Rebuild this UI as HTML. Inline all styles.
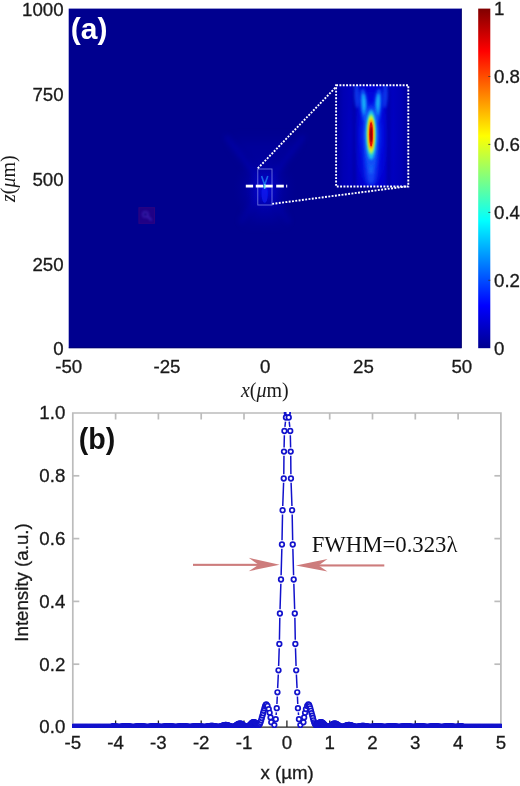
<!DOCTYPE html>
<html lang="en"><head><meta charset="utf-8"><title>Figure</title>
<style>
html,body{margin:0;padding:0;background:#fff;}
body{width:520px;height:786px;overflow:hidden;}
svg{display:block;}
text{font-family:"Liberation Sans",Arial,sans-serif;fill:#1a1a1a;}
.t{font-size:18.7px;}
text{stroke:#1a1a1a;stroke-width:0.3px;}
.s{font-family:"Liberation Serif","Times New Roman",serif;stroke:none;}
</style></head><body>
<svg width="520" height="786" viewBox="0 0 520 786">
<defs>
<linearGradient id="jet" x1="0" y1="1" x2="0" y2="0">
<stop offset="0" stop-color="#00008f"/>
<stop offset="0.125" stop-color="#0000ff"/>
<stop offset="0.375" stop-color="#00ffff"/>
<stop offset="0.5" stop-color="#80ff80"/>
<stop offset="0.625" stop-color="#ffff00"/>
<stop offset="0.875" stop-color="#ff0000"/>
<stop offset="1" stop-color="#800000"/>
</linearGradient>
<linearGradient id="insbg" x1="0" y1="0" x2="1" y2="0">
<stop offset="0" stop-color="#00009c"/><stop offset="0.1" stop-color="#0000b4"/><stop offset="0.3" stop-color="#0000c6"/><stop offset="0.5" stop-color="#0000d4"/><stop offset="0.7" stop-color="#0000c6"/><stop offset="0.9" stop-color="#0000b4"/><stop offset="1" stop-color="#00009c"/>
</linearGradient>
<radialGradient id="glow" cx="0.5" cy="0.5" r="0.5">
<stop offset="0" stop-color="#0808f0" stop-opacity="0.85"/>
<stop offset="0.3" stop-color="#0404d8" stop-opacity="0.55"/>
<stop offset="0.6" stop-color="#0000c0" stop-opacity="0.25"/>
<stop offset="1" stop-color="#0000a0" stop-opacity="0"/>
</radialGradient>
<radialGradient id="hot" cx="0.5" cy="0.5" r="0.5">
<stop offset="0" stop-color="#a00000"/>
<stop offset="0.16" stop-color="#e81000"/>
<stop offset="0.27" stop-color="#ff8000"/>
<stop offset="0.36" stop-color="#f0f020"/>
<stop offset="0.46" stop-color="#70f090"/>
<stop offset="0.58" stop-color="#10c8f0" stop-opacity="0.95"/>
<stop offset="0.75" stop-color="#1060f0" stop-opacity="0.7"/>
<stop offset="1" stop-color="#0808c8" stop-opacity="0"/>
</radialGradient>
<radialGradient id="lobe" cx="0.5" cy="0.5" r="0.5">
<stop offset="0" stop-color="#18b8f8" stop-opacity="1"/>
<stop offset="0.5" stop-color="#1060f0" stop-opacity="0.7"/>
<stop offset="1" stop-color="#0808c8" stop-opacity="0"/>
</radialGradient>
<radialGradient id="lobe2" cx="0.5" cy="0.5" r="0.5">
<stop offset="0" stop-color="#1050f0" stop-opacity="0.9"/>
<stop offset="1" stop-color="#0808c8" stop-opacity="0"/>
</radialGradient>
<filter id="f0" x="-50%" y="-50%" width="200%" height="200%"><feGaussianBlur stdDeviation="0.5"/></filter>
<filter id="f1" x="-50%" y="-50%" width="200%" height="200%"><feGaussianBlur stdDeviation="0.9"/></filter>
<filter id="f2" x="-50%" y="-50%" width="200%" height="200%"><feGaussianBlur stdDeviation="1.6"/></filter>
<filter id="f3" x="-50%" y="-50%" width="200%" height="200%"><feGaussianBlur stdDeviation="2.6"/></filter>
<filter id="f4" x="-50%" y="-50%" width="200%" height="200%"><feGaussianBlur stdDeviation="6"/></filter>
<filter id="b1" x="-20%" y="-20%" width="140%" height="140%"><feGaussianBlur stdDeviation="0.7"/></filter>
<filter id="b2" x="-20%" y="-20%" width="140%" height="140%"><feGaussianBlur stdDeviation="2.5"/></filter>
<clipPath id="hc"><rect x="68.7" y="8.6" width="393.1" height="339.59999999999997"/></clipPath>
<clipPath id="ic"><rect x="336.2" y="85.2" width="72.4" height="101.3"/></clipPath>
<clipPath id="pc"><rect x="71.9" y="412.1" width="430.1" height="315.79999999999995"/></clipPath>
</defs>
<rect x="0" y="0" width="520" height="786" fill="#ffffff"/>

<rect x="68.7" y="8.6" width="393.1" height="339.59999999999997" fill="#00008f"/>
<g clip-path="url(#hc)">
<g filter="url(#f3)">
<line x1="264.8" y1="186.3" x2="303.0" y2="137.4" stroke="#0c0cd0" stroke-width="4.5" stroke-linecap="round" opacity="0.3"/>
<line x1="264.8" y1="186.3" x2="226.6" y2="137.4" stroke="#0c0cd0" stroke-width="4.5" stroke-linecap="round" opacity="0.3"/>
<line x1="264.8" y1="186.3" x2="241.3" y2="221.1" stroke="#0c0cd0" stroke-width="4.5" stroke-linecap="round" opacity="0.2"/>
<line x1="264.8" y1="186.3" x2="288.3" y2="221.1" stroke="#0c0cd0" stroke-width="4.5" stroke-linecap="round" opacity="0.2"/>
</g>
<g filter="url(#f4)">
<path d="M264.8 186.3 L230.8 140.3 L298.8 140.3 Z" fill="#0808d0" opacity="0.18"/>
<path d="M264.8 186.3 L242.8 222.3 L286.8 222.3 Z" fill="#0808d0" opacity="0.16"/>
</g>
<ellipse cx="264.8" cy="189.3" rx="32" ry="38" fill="url(#glow)"/>
<g filter="url(#b1)">
<ellipse cx="264.7" cy="194" rx="3.2" ry="9" fill="#0c1cf0" opacity="0.7"/>
<path d="M261.6 176 L264.6 185 L267.8 176" fill="none" stroke="#1c78f0" stroke-width="1.6" opacity="0.85"/>
<ellipse cx="264.7" cy="186.3" rx="1.3" ry="2.6" fill="#60d0e8"/>
</g>
</g>
<g><rect x="138.9" y="207.7" width="15.6" height="15.6" fill="#560078" stroke="#7a0868" stroke-width="1" opacity="0.36"/><g opacity="0.5" filter="url(#f1)"><circle cx="145.4" cy="214.4" r="2.7" fill="#000080" stroke="#5038d0" stroke-width="1.5"/><line x1="147.6" y1="216.6" x2="151" y2="219.8" stroke="#5038d0" stroke-width="2" stroke-linecap="round"/></g></g>
<rect x="336.2" y="85.2" width="72.40000000000003" height="101.3" fill="url(#insbg)"/>
<g clip-path="url(#ic)">
<ellipse cx="371.2" cy="138" rx="17" ry="48" fill="#0008f0" opacity="0.55" filter="url(#f4)"/>
<ellipse cx="354.3" cy="140" rx="2.2" ry="60" fill="#000088" opacity="0.45" filter="url(#f2)"/>
<ellipse cx="388.6" cy="140" rx="2.2" ry="60" fill="#000088" opacity="0.45" filter="url(#f2)"/>
<ellipse cx="371" cy="164" rx="6.2" ry="22" fill="#1450f8" opacity="0.9" filter="url(#f3)"/>
<ellipse cx="371" cy="160" rx="3.2" ry="14" fill="#1880f8" opacity="0.55" filter="url(#f2)"/>
<ellipse cx="357.0" cy="96" rx="2.6" ry="12.5" fill="#1040f0" opacity="0.85" filter="url(#f2)" transform="rotate(-3 357.0 96)"/>
<ellipse cx="385.0" cy="96" rx="2.6" ry="12.5" fill="#1040f0" opacity="0.85" filter="url(#f2)" transform="rotate(3 385.0 96)"/>
<ellipse cx="363.8" cy="105" rx="3.6" ry="16.5" fill="#0c58f8" opacity="0.95" filter="url(#f2)" transform="rotate(-4 363.8 105)"/>
<ellipse cx="378.0" cy="105" rx="3.6" ry="16.5" fill="#0c58f8" opacity="0.95" filter="url(#f2)" transform="rotate(4 378.0 105)"/>
<ellipse cx="364.0" cy="104.5" rx="2.0" ry="11" fill="#18b0f8" opacity="1" filter="url(#f1)" transform="rotate(-4 364.0 104.5)"/>
<ellipse cx="377.8" cy="104.5" rx="2.0" ry="11" fill="#18b0f8" opacity="1" filter="url(#f1)" transform="rotate(4 377.8 104.5)"/>
<ellipse cx="371.1" cy="135.3" rx="8.5" ry="31" fill="#0c48f8" opacity="0.95" filter="url(#f3)"/>
<ellipse cx="371.1" cy="134.8" rx="5.4" ry="25" fill="#18c8f0" opacity="1" filter="url(#f2)"/>
<ellipse cx="371.1" cy="134.3" rx="3.9" ry="20" fill="#a0f060" opacity="1" filter="url(#f1)"/>
<ellipse cx="371.1" cy="134.3" rx="3.1" ry="17" fill="#ffe800" opacity="1" filter="url(#f1)"/>
<ellipse cx="371.1" cy="134.3" rx="2.4" ry="14.5" fill="#ff6000" opacity="1" filter="url(#f1)"/>
<ellipse cx="371.1" cy="134.3" rx="1.85" ry="12.3" fill="#e00800" opacity="1" filter="url(#f0)"/>
<ellipse cx="371.1" cy="134.60000000000002" rx="1.0" ry="7.5" fill="#980000" opacity="1" filter="url(#f0)"/>
</g>
<rect x="336.1" y="85.2" width="72.2" height="101.3" stroke="#ffffff" stroke-width="1.9" stroke-dasharray="1.9 1.43" fill="none"/>
<line x1="257.8" y1="168.4" x2="335.6" y2="87.4" stroke="#ffffff" stroke-width="1.9" stroke-dasharray="1.9 1.43" fill="none"/>
<line x1="272.2" y1="203.9" x2="407.5" y2="186.3" stroke="#ffffff" stroke-width="1.9" stroke-dasharray="1.9 1.43" fill="none"/>
<rect x="257.8" y="169" width="14.2" height="36" fill="none" stroke="#b0bcff" stroke-width="0.9" opacity="0.62"/>
<rect x="245.8" y="184.7" width="7.3" height="2.8" fill="#ffffff"/>
<rect x="255.8" y="184.7" width="7.3" height="2.8" fill="#ffffff"/>
<rect x="265.4" y="184.7" width="7.3" height="2.8" fill="#ffffff"/>
<rect x="276.2" y="184.7" width="7.6" height="2.8" fill="#ffffff"/>
<rect x="286.2" y="184.7" width="1.0" height="2.8" fill="#ffffff"/>
<path d="M461.40000000000003 8.6 V347.8 H68.7" fill="none" stroke="#000050" stroke-width="0.9" opacity="0.55"/>
<rect x="478.2" y="8.6" width="12.1" height="339.59999999999997" fill="url(#jet)"/>
<text class="t" x="494.0" y="354.8">0</text>
<line x1="488.3" y1="280.3" x2="490.3" y2="280.3" stroke="#333" stroke-width="0.8"/>
<text class="t" x="494.0" y="286.9">0.2</text>
<line x1="488.3" y1="212.4" x2="490.3" y2="212.4" stroke="#333" stroke-width="0.8"/>
<text class="t" x="494.0" y="219.0">0.4</text>
<line x1="488.3" y1="144.4" x2="490.3" y2="144.4" stroke="#333" stroke-width="0.8"/>
<text class="t" x="494.0" y="151.0">0.6</text>
<line x1="488.3" y1="76.5" x2="490.3" y2="76.5" stroke="#333" stroke-width="0.8"/>
<text class="t" x="494.0" y="83.1">0.8</text>
<text class="t" x="494.0" y="15.2">1</text>
<text class="t" x="63.6" y="355.4" text-anchor="end">0</text>
<text class="t" x="63.6" y="270.5" text-anchor="end">250</text>
<text class="t" x="63.6" y="185.6" text-anchor="end">500</text>
<text class="t" x="63.6" y="100.7" text-anchor="end">750</text>
<text class="t" x="63.6" y="15.8" text-anchor="end">1000</text>
<text class="t" x="68.7" y="373" text-anchor="middle">-50</text>
<text class="t" x="167.0" y="373" text-anchor="middle">-25</text>
<text class="t" x="265.2" y="373" text-anchor="middle">0</text>
<text class="t" x="363.5" y="373" text-anchor="middle">25</text>
<text class="t" x="461.8" y="373" text-anchor="middle">50</text>
<text class="s" x="264.8" y="397.3" text-anchor="middle" font-size="20"><tspan font-style="italic">x</tspan>(<tspan font-style="italic">μ</tspan>m)</text>
<text class="s" transform="translate(15.3,178.6) rotate(-90)" text-anchor="middle" font-size="20"><tspan font-style="italic">z</tspan>(<tspan font-style="italic">μ</tspan>m)</text>
<text x="70.8" y="39.2" font-size="30" font-weight="bold" style="fill:#ffffff;stroke:none">(a)</text>
<g stroke="#bcbcbc" stroke-width="1.7" fill="none">
<path d="M72.8 727.0 V413.0 H500.9 V727.0"/>
<line x1="115.6" y1="413.0" x2="115.6" y2="419.5"/>
<line x1="158.4" y1="413.0" x2="158.4" y2="419.5"/>
<line x1="201.2" y1="413.0" x2="201.2" y2="419.5"/>
<line x1="244.0" y1="413.0" x2="244.0" y2="419.5"/>
<line x1="286.9" y1="413.0" x2="286.9" y2="419.5"/>
<line x1="329.7" y1="413.0" x2="329.7" y2="419.5"/>
<line x1="372.5" y1="413.0" x2="372.5" y2="419.5"/>
<line x1="415.3" y1="413.0" x2="415.3" y2="419.5"/>
<line x1="458.1" y1="413.0" x2="458.1" y2="419.5"/>
<line x1="72.8" y1="664.2" x2="79.3" y2="664.2"/>
<line x1="500.9" y1="664.2" x2="494.4" y2="664.2"/>
<line x1="72.8" y1="601.4" x2="79.3" y2="601.4"/>
<line x1="500.9" y1="601.4" x2="494.4" y2="601.4"/>
<line x1="72.8" y1="538.6" x2="79.3" y2="538.6"/>
<line x1="500.9" y1="538.6" x2="494.4" y2="538.6"/>
<line x1="72.8" y1="475.8" x2="79.3" y2="475.8"/>
<line x1="500.9" y1="475.8" x2="494.4" y2="475.8"/>
</g>
<g stroke="#222" stroke-width="1.3">
<line x1="72.8" y1="727.2" x2="500.9" y2="727.2"/>
<line x1="115.6" y1="727.0" x2="115.6" y2="720.5"/>
<line x1="158.4" y1="727.0" x2="158.4" y2="720.5"/>
<line x1="201.2" y1="727.0" x2="201.2" y2="720.5"/>
<line x1="244.0" y1="727.0" x2="244.0" y2="720.5"/>
<line x1="286.9" y1="727.0" x2="286.9" y2="720.5"/>
<line x1="329.7" y1="727.0" x2="329.7" y2="720.5"/>
<line x1="372.5" y1="727.0" x2="372.5" y2="720.5"/>
<line x1="415.3" y1="727.0" x2="415.3" y2="720.5"/>
<line x1="458.1" y1="727.0" x2="458.1" y2="720.5"/>
</g>
<text class="t" x="72.8" y="749.3" text-anchor="middle">-5</text>
<text class="t" x="115.6" y="749.3" text-anchor="middle">-4</text>
<text class="t" x="158.4" y="749.3" text-anchor="middle">-3</text>
<text class="t" x="201.2" y="749.3" text-anchor="middle">-2</text>
<text class="t" x="244.0" y="749.3" text-anchor="middle">-1</text>
<text class="t" x="286.9" y="749.3" text-anchor="middle">0</text>
<text class="t" x="329.7" y="749.3" text-anchor="middle">1</text>
<text class="t" x="372.5" y="749.3" text-anchor="middle">2</text>
<text class="t" x="415.3" y="749.3" text-anchor="middle">3</text>
<text class="t" x="458.1" y="749.3" text-anchor="middle">4</text>
<text class="t" x="500.9" y="749.3" text-anchor="middle">5</text>
<text class="t" x="65.3" y="733.4" text-anchor="end">0.0</text>
<text class="t" x="65.3" y="670.6" text-anchor="end">0.2</text>
<text class="t" x="65.3" y="607.8" text-anchor="end">0.4</text>
<text class="t" x="65.3" y="545.0" text-anchor="end">0.6</text>
<text class="t" x="65.3" y="482.2" text-anchor="end">0.8</text>
<text class="t" x="65.3" y="419.4" text-anchor="end">1.0</text>
<text class="t" x="287.2" y="779" text-anchor="middle">x (µm)</text>
<text class="t" transform="translate(27.8,582.5) rotate(-90)" text-anchor="middle">Intensity (a.u.)</text>
<text x="78.8" y="449.3" font-size="28.6" font-weight="bold" style="fill:#111;stroke:none">(b)</text>
<g clip-path="url(#pc)">
<path fill="none" stroke="#1212cc" stroke-width="1.5" d="M276.13 715.02L276.37 712.38M276.93 704.00L277.27 696.50M277.65 688.10L278.30 674.50M278.64 666.10L279.21 648.20M279.43 639.80L279.82 617.70M280.04 609.30L280.86 583.70M281.11 575.30L281.84 548.70M282.03 540.30L282.52 514.40M282.75 506.00L283.60 482.70M283.79 474.30L283.96 455.80M284.09 447.40L284.36 435.20M284.91 426.83L285.49 421.67M289.21 421.67L289.79 426.83M290.34 435.20L290.61 447.40M290.74 455.80L290.91 474.30M291.10 482.70L291.95 506.00M292.18 514.40L292.67 540.30M292.86 548.70L293.59 575.30M293.84 583.70L294.66 609.30M294.88 617.70L295.27 639.80M295.49 648.20L296.06 666.10M296.40 674.50L297.05 688.10M297.43 696.50L297.77 704.00M298.33 712.38L298.57 715.02"/>
<rect x="71.9" y="724.6" width="189.0" height="3.4" fill="#1212cc"/>
<rect x="313.9" y="724.6" width="188.1" height="3.4" fill="#1212cc"/>
<g fill="#ffffff" stroke="#1212cc" stroke-width="1.7">
<circle cx="73.30" cy="726.84" r="2.3" fill="#1212cc"/>
<circle cx="73.95" cy="726.84" r="2.3" fill="#1212cc"/>
<circle cx="74.60" cy="726.84" r="2.3" fill="#1212cc"/>
<circle cx="75.25" cy="726.84" r="2.3"/>
<circle cx="75.90" cy="726.84" r="2.3"/>
<circle cx="76.55" cy="726.84" r="2.3"/>
<circle cx="77.20" cy="726.84" r="2.3"/>
<circle cx="77.85" cy="726.84" r="2.3"/>
<circle cx="78.50" cy="726.84" r="2.3"/>
<circle cx="79.15" cy="726.84" r="2.3"/>
<circle cx="79.80" cy="726.84" r="2.3"/>
<circle cx="80.45" cy="726.84" r="2.3"/>
<circle cx="81.10" cy="726.84" r="2.3"/>
<circle cx="81.75" cy="726.84" r="2.3"/>
<circle cx="82.40" cy="726.84" r="2.3"/>
<circle cx="83.05" cy="726.84" r="2.3"/>
<circle cx="83.70" cy="726.84" r="2.3"/>
<circle cx="84.35" cy="726.84" r="2.3"/>
<circle cx="85.00" cy="726.84" r="2.3"/>
<circle cx="85.65" cy="726.84" r="2.3"/>
<circle cx="86.30" cy="726.84" r="2.3"/>
<circle cx="86.95" cy="726.84" r="2.3"/>
<circle cx="87.60" cy="726.84" r="2.3"/>
<circle cx="88.25" cy="726.84" r="2.3"/>
<circle cx="88.90" cy="726.84" r="2.3"/>
<circle cx="89.55" cy="726.84" r="2.3"/>
<circle cx="90.20" cy="726.84" r="2.3"/>
<circle cx="90.85" cy="726.84" r="2.3"/>
<circle cx="91.50" cy="726.84" r="2.3"/>
<circle cx="92.15" cy="726.84" r="2.3"/>
<circle cx="92.80" cy="726.84" r="2.3"/>
<circle cx="93.45" cy="726.84" r="2.3"/>
<circle cx="94.10" cy="726.84" r="2.3"/>
<circle cx="94.75" cy="726.84" r="2.3"/>
<circle cx="95.40" cy="726.84" r="2.3"/>
<circle cx="96.05" cy="726.84" r="2.3"/>
<circle cx="96.70" cy="726.84" r="2.3"/>
<circle cx="97.35" cy="726.84" r="2.3"/>
<circle cx="98.00" cy="726.84" r="2.3"/>
<circle cx="98.65" cy="726.84" r="2.3"/>
<circle cx="99.30" cy="726.84" r="2.3"/>
<circle cx="99.95" cy="726.84" r="2.3"/>
<circle cx="100.60" cy="726.84" r="2.3"/>
<circle cx="101.25" cy="726.84" r="2.3"/>
<circle cx="101.90" cy="726.84" r="2.3"/>
<circle cx="102.55" cy="726.84" r="2.3"/>
<circle cx="103.20" cy="726.84" r="2.3"/>
<circle cx="103.85" cy="726.84" r="2.3"/>
<circle cx="104.50" cy="726.84" r="2.3"/>
<circle cx="105.15" cy="726.84" r="2.3"/>
<circle cx="105.80" cy="726.84" r="2.3"/>
<circle cx="106.45" cy="726.84" r="2.3"/>
<circle cx="107.10" cy="726.84" r="2.3"/>
<circle cx="107.75" cy="726.84" r="2.3"/>
<circle cx="108.40" cy="726.84" r="2.3"/>
<circle cx="109.05" cy="726.84" r="2.3"/>
<circle cx="109.70" cy="726.84" r="2.3"/>
<circle cx="110.35" cy="726.84" r="2.3"/>
<circle cx="111.00" cy="726.84" r="2.3"/>
<circle cx="111.65" cy="726.84" r="2.3"/>
<circle cx="112.30" cy="726.84" r="2.3"/>
<circle cx="112.95" cy="726.19" r="2.3"/>
<circle cx="113.60" cy="726.25" r="2.3"/>
<circle cx="114.25" cy="726.33" r="2.3"/>
<circle cx="114.90" cy="726.42" r="2.3"/>
<circle cx="115.55" cy="726.52" r="2.3"/>
<circle cx="116.20" cy="726.62" r="2.3"/>
<circle cx="116.85" cy="726.70" r="2.3"/>
<circle cx="117.50" cy="726.77" r="2.3"/>
<circle cx="118.15" cy="726.82" r="2.3"/>
<circle cx="118.80" cy="726.84" r="2.3"/>
<circle cx="119.45" cy="726.83" r="2.3"/>
<circle cx="120.10" cy="726.80" r="2.3"/>
<circle cx="120.75" cy="726.74" r="2.3"/>
<circle cx="121.40" cy="726.66" r="2.3"/>
<circle cx="122.05" cy="726.57" r="2.3"/>
<circle cx="122.70" cy="726.47" r="2.3"/>
<circle cx="123.35" cy="726.37" r="2.3"/>
<circle cx="124.00" cy="726.28" r="2.3"/>
<circle cx="124.65" cy="726.22" r="2.3"/>
<circle cx="125.30" cy="726.17" r="2.3"/>
<circle cx="125.95" cy="726.15" r="2.3"/>
<circle cx="126.60" cy="726.16" r="2.3"/>
<circle cx="127.25" cy="726.20" r="2.3"/>
<circle cx="127.90" cy="726.26" r="2.3"/>
<circle cx="128.55" cy="726.34" r="2.3"/>
<circle cx="129.20" cy="726.44" r="2.3"/>
<circle cx="129.85" cy="726.54" r="2.3"/>
<circle cx="130.50" cy="726.63" r="2.3"/>
<circle cx="131.15" cy="726.72" r="2.3"/>
<circle cx="131.80" cy="726.78" r="2.3"/>
<circle cx="132.45" cy="726.83" r="2.3"/>
<circle cx="133.10" cy="726.84" r="2.3"/>
<circle cx="133.75" cy="726.83" r="2.3"/>
<circle cx="134.40" cy="726.79" r="2.3"/>
<circle cx="135.05" cy="726.73" r="2.3"/>
<circle cx="135.70" cy="726.65" r="2.3"/>
<circle cx="136.35" cy="726.55" r="2.3"/>
<circle cx="137.00" cy="726.45" r="2.3"/>
<circle cx="137.65" cy="726.36" r="2.3"/>
<circle cx="138.30" cy="726.27" r="2.3"/>
<circle cx="138.95" cy="726.21" r="2.3"/>
<circle cx="139.60" cy="726.17" r="2.3"/>
<circle cx="140.25" cy="726.15" r="2.3"/>
<circle cx="140.90" cy="726.17" r="2.3"/>
<circle cx="141.55" cy="726.21" r="2.3"/>
<circle cx="142.20" cy="726.27" r="2.3"/>
<circle cx="142.85" cy="726.36" r="2.3"/>
<circle cx="143.50" cy="726.45" r="2.3"/>
<circle cx="144.15" cy="726.55" r="2.3"/>
<circle cx="144.80" cy="726.65" r="2.3"/>
<circle cx="145.45" cy="726.73" r="2.3"/>
<circle cx="146.10" cy="726.79" r="2.3"/>
<circle cx="146.75" cy="726.83" r="2.3"/>
<circle cx="147.40" cy="726.84" r="2.3"/>
<circle cx="148.05" cy="726.83" r="2.3"/>
<circle cx="148.70" cy="726.78" r="2.3"/>
<circle cx="149.35" cy="726.72" r="2.3"/>
<circle cx="150.00" cy="726.63" r="2.3"/>
<circle cx="150.65" cy="726.54" r="2.3"/>
<circle cx="151.30" cy="726.44" r="2.3"/>
<circle cx="151.95" cy="726.34" r="2.3"/>
<circle cx="152.60" cy="726.26" r="2.3"/>
<circle cx="153.25" cy="726.20" r="2.3"/>
<circle cx="153.90" cy="726.16" r="2.3"/>
<circle cx="154.55" cy="726.15" r="2.3"/>
<circle cx="155.20" cy="726.17" r="2.3"/>
<circle cx="155.85" cy="726.22" r="2.3"/>
<circle cx="156.50" cy="726.28" r="2.3"/>
<circle cx="157.15" cy="726.37" r="2.3"/>
<circle cx="157.80" cy="726.47" r="2.3"/>
<circle cx="158.45" cy="726.57" r="2.3"/>
<circle cx="159.10" cy="726.66" r="2.3"/>
<circle cx="159.75" cy="726.74" r="2.3"/>
<circle cx="160.40" cy="726.80" r="2.3"/>
<circle cx="161.05" cy="726.83" r="2.3"/>
<circle cx="161.70" cy="726.84" r="2.3"/>
<circle cx="162.35" cy="726.82" r="2.3"/>
<circle cx="163.00" cy="726.77" r="2.3"/>
<circle cx="163.65" cy="726.70" r="2.3"/>
<circle cx="164.30" cy="726.62" r="2.3"/>
<circle cx="164.95" cy="726.52" r="2.3"/>
<circle cx="165.60" cy="726.42" r="2.3"/>
<circle cx="166.25" cy="726.33" r="2.3"/>
<circle cx="166.90" cy="726.25" r="2.3"/>
<circle cx="167.55" cy="726.19" r="2.3"/>
<circle cx="168.20" cy="726.16" r="2.3"/>
<circle cx="168.85" cy="726.15" r="2.3"/>
<circle cx="169.50" cy="726.18" r="2.3"/>
<circle cx="170.15" cy="726.23" r="2.3"/>
<circle cx="170.80" cy="726.30" r="2.3"/>
<circle cx="171.45" cy="726.39" r="2.3"/>
<circle cx="172.10" cy="726.48" r="2.3"/>
<circle cx="172.75" cy="726.58" r="2.3"/>
<circle cx="173.40" cy="726.67" r="2.3"/>
<circle cx="174.05" cy="726.75" r="2.3"/>
<circle cx="174.70" cy="726.81" r="2.3"/>
<circle cx="175.35" cy="726.84" r="2.3"/>
<circle cx="176.00" cy="726.84" r="2.3"/>
<circle cx="176.65" cy="726.82" r="2.3"/>
<circle cx="177.30" cy="726.76" r="2.3"/>
<circle cx="177.95" cy="726.69" r="2.3"/>
<circle cx="178.60" cy="726.60" r="2.3"/>
<circle cx="179.25" cy="726.51" r="2.3"/>
<circle cx="179.90" cy="726.41" r="2.3"/>
<circle cx="180.55" cy="726.32" r="2.3"/>
<circle cx="181.20" cy="726.24" r="2.3"/>
<circle cx="181.85" cy="726.19" r="2.3"/>
<circle cx="182.50" cy="726.16" r="2.3"/>
<circle cx="183.15" cy="726.16" r="2.3"/>
<circle cx="183.80" cy="726.18" r="2.3"/>
<circle cx="184.45" cy="726.24" r="2.3"/>
<circle cx="185.10" cy="726.31" r="2.3"/>
<circle cx="185.75" cy="726.40" r="2.3"/>
<circle cx="186.40" cy="726.50" r="2.3"/>
<circle cx="187.05" cy="726.60" r="2.3"/>
<circle cx="187.70" cy="726.69" r="2.3"/>
<circle cx="188.35" cy="726.76" r="2.3"/>
<circle cx="189.00" cy="726.81" r="2.3"/>
<circle cx="189.65" cy="726.84" r="2.3"/>
<circle cx="190.30" cy="726.84" r="2.3"/>
<circle cx="190.95" cy="726.81" r="2.3"/>
<circle cx="191.60" cy="726.75" r="2.3"/>
<circle cx="192.25" cy="726.68" r="2.3"/>
<circle cx="192.90" cy="726.59" r="2.3"/>
<circle cx="193.55" cy="726.49" r="2.3"/>
<circle cx="194.20" cy="726.39" r="2.3"/>
<circle cx="194.85" cy="726.30" r="2.3"/>
<circle cx="195.50" cy="726.23" r="2.3"/>
<circle cx="196.15" cy="726.18" r="2.3"/>
<circle cx="196.80" cy="726.15" r="2.3"/>
<circle cx="197.45" cy="726.16" r="2.3"/>
<circle cx="198.10" cy="726.19" r="2.3"/>
<circle cx="198.75" cy="726.25" r="2.3"/>
<circle cx="199.40" cy="726.32" r="2.3"/>
<circle cx="200.05" cy="726.41" r="2.3"/>
<circle cx="200.70" cy="726.51" r="2.3"/>
<circle cx="201.35" cy="726.61" r="2.3"/>
<circle cx="202.00" cy="726.70" r="2.3"/>
<circle cx="202.65" cy="726.77" r="2.3"/>
<circle cx="203.30" cy="726.82" r="2.3"/>
<circle cx="203.95" cy="726.84" r="2.3"/>
<circle cx="204.60" cy="726.84" r="2.3"/>
<circle cx="205.25" cy="726.80" r="2.3"/>
<circle cx="205.90" cy="726.74" r="2.3"/>
<circle cx="206.55" cy="726.64" r="2.3"/>
<circle cx="207.20" cy="726.53" r="2.3"/>
<circle cx="207.85" cy="726.40" r="2.3"/>
<circle cx="208.50" cy="726.27" r="2.3"/>
<circle cx="209.15" cy="726.14" r="2.3"/>
<circle cx="209.80" cy="726.03" r="2.3"/>
<circle cx="210.45" cy="725.94" r="2.3"/>
<circle cx="211.10" cy="725.88" r="2.3"/>
<circle cx="211.75" cy="725.86" r="2.3"/>
<circle cx="212.40" cy="725.88" r="2.3"/>
<circle cx="213.05" cy="725.94" r="2.3"/>
<circle cx="213.70" cy="726.04" r="2.3"/>
<circle cx="214.35" cy="726.17" r="2.3"/>
<circle cx="215.00" cy="726.31" r="2.3"/>
<circle cx="215.65" cy="726.46" r="2.3"/>
<circle cx="216.30" cy="726.61" r="2.3"/>
<circle cx="216.95" cy="726.72" r="2.3"/>
<circle cx="217.60" cy="726.81" r="2.3"/>
<circle cx="218.25" cy="726.84" r="2.3"/>
<circle cx="218.90" cy="726.82" r="2.3"/>
<circle cx="219.55" cy="726.74" r="2.3"/>
<circle cx="220.20" cy="726.61" r="2.3"/>
<circle cx="220.85" cy="726.42" r="2.3"/>
<circle cx="221.50" cy="726.20" r="2.3"/>
<circle cx="222.15" cy="725.95" r="2.3"/>
<circle cx="222.80" cy="725.69" r="2.3"/>
<circle cx="223.45" cy="725.45" r="2.3"/>
<circle cx="224.10" cy="725.24" r="2.3"/>
<circle cx="224.75" cy="725.08" r="2.3"/>
<circle cx="225.40" cy="724.99" r="2.3"/>
<circle cx="226.05" cy="724.97" r="2.3"/>
<circle cx="226.70" cy="725.03" r="2.3"/>
<circle cx="227.35" cy="725.17" r="2.3"/>
<circle cx="228.00" cy="725.37" r="2.3"/>
<circle cx="228.65" cy="725.62" r="2.3"/>
<circle cx="229.30" cy="725.90" r="2.3"/>
<circle cx="229.95" cy="726.18" r="2.3"/>
<circle cx="230.60" cy="726.44" r="2.3"/>
<circle cx="231.25" cy="726.65" r="2.3"/>
<circle cx="231.90" cy="726.79" r="2.3"/>
<circle cx="232.55" cy="726.84" r="2.3"/>
<circle cx="233.20" cy="726.79" r="2.3"/>
<circle cx="233.85" cy="726.63" r="2.3"/>
<circle cx="234.50" cy="726.38" r="2.3"/>
<circle cx="235.15" cy="726.03" r="2.3"/>
<circle cx="235.80" cy="725.62" r="2.3"/>
<circle cx="236.45" cy="725.18" r="2.3"/>
<circle cx="237.10" cy="724.74" r="2.3"/>
<circle cx="237.75" cy="724.33" r="2.3"/>
<circle cx="238.40" cy="723.98" r="2.3"/>
<circle cx="239.05" cy="723.74" r="2.3"/>
<circle cx="239.70" cy="723.61" r="2.3"/>
<circle cx="240.35" cy="723.62" r="2.3"/>
<circle cx="241.00" cy="723.76" r="2.3"/>
<circle cx="241.65" cy="724.02" r="2.3"/>
<circle cx="242.30" cy="724.40" r="2.3"/>
<circle cx="242.95" cy="724.84" r="2.3"/>
<circle cx="243.60" cy="725.33" r="2.3"/>
<circle cx="244.25" cy="725.81" r="2.3"/>
<circle cx="244.90" cy="726.24" r="2.3"/>
<circle cx="245.55" cy="726.57" r="2.3"/>
<circle cx="246.20" cy="726.78" r="2.3"/>
<circle cx="246.85" cy="726.84" r="2.3"/>
<circle cx="247.50" cy="726.73" r="2.3"/>
<circle cx="248.15" cy="726.45" r="2.3"/>
<circle cx="248.80" cy="726.02" r="2.3"/>
<circle cx="249.45" cy="725.47" r="2.3"/>
<circle cx="250.10" cy="724.84" r="2.3"/>
<circle cx="250.75" cy="724.17" r="2.3"/>
<circle cx="251.40" cy="723.52" r="2.3"/>
<circle cx="252.05" cy="722.94" r="2.3"/>
<circle cx="252.70" cy="722.49" r="2.3"/>
<circle cx="253.35" cy="722.21" r="2.3"/>
<circle cx="254.00" cy="722.14" r="2.3"/>
<circle cx="254.65" cy="722.28" r="2.3"/>
<circle cx="255.30" cy="722.60" r="2.3"/>
<circle cx="255.95" cy="723.08" r="2.3"/>
<circle cx="256.60" cy="723.67" r="2.3"/>
<circle cx="257.25" cy="724.33" r="2.3"/>
<circle cx="257.90" cy="725.00" r="2.3"/>
<circle cx="258.55" cy="725.40" r="2.3"/>
<circle cx="259.20" cy="724.80" r="2.3"/>
<circle cx="259.85" cy="723.80" r="2.3"/>
<circle cx="260.50" cy="722.30" r="2.3"/>
<circle cx="261.15" cy="720.30" r="2.3"/>
<circle cx="261.80" cy="718.00" r="2.3"/>
<circle cx="262.45" cy="715.60" r="2.3"/>
<circle cx="263.10" cy="713.20" r="2.3"/>
<circle cx="263.75" cy="710.80" r="2.3"/>
<circle cx="264.40" cy="708.40" r="2.3"/>
<circle cx="265.05" cy="706.30" r="2.3"/>
<circle cx="265.70" cy="704.90" r="2.3"/>
<circle cx="266.35" cy="704.40" r="2.3"/>
<circle cx="267.50" cy="706.00" r="2.3"/>
<circle cx="268.75" cy="709.10" r="2.3"/>
<circle cx="269.65" cy="712.80" r="2.3"/>
<circle cx="270.55" cy="717.40" r="2.3"/>
<circle cx="271.25" cy="722.30" r="2.3"/>
<circle cx="274.35" cy="725.10" r="2.3"/>
<circle cx="275.75" cy="719.20" r="2.3"/>
<circle cx="276.75" cy="708.20" r="2.3"/>
<circle cx="277.45" cy="692.30" r="2.3"/>
<circle cx="278.50" cy="670.30" r="2.3"/>
<circle cx="279.35" cy="644.00" r="2.3"/>
<circle cx="279.90" cy="613.50" r="2.3"/>
<circle cx="281.00" cy="579.50" r="2.3"/>
<circle cx="281.95" cy="544.50" r="2.3"/>
<circle cx="282.60" cy="510.20" r="2.3"/>
<circle cx="283.75" cy="478.50" r="2.3"/>
<circle cx="284.00" cy="451.60" r="2.3"/>
<circle cx="284.45" cy="431.00" r="2.3"/>
<circle cx="285.95" cy="417.50" r="2.3"/>
<circle cx="286.85" cy="413.00" r="2.3"/>
<circle cx="287.85" cy="413.00" r="2.3"/>
<circle cx="288.75" cy="417.50" r="2.3"/>
<circle cx="290.25" cy="431.00" r="2.3"/>
<circle cx="290.70" cy="451.60" r="2.3"/>
<circle cx="290.95" cy="478.50" r="2.3"/>
<circle cx="292.10" cy="510.20" r="2.3"/>
<circle cx="292.75" cy="544.50" r="2.3"/>
<circle cx="293.70" cy="579.50" r="2.3"/>
<circle cx="294.80" cy="613.50" r="2.3"/>
<circle cx="295.35" cy="644.00" r="2.3"/>
<circle cx="296.20" cy="670.30" r="2.3"/>
<circle cx="297.25" cy="692.30" r="2.3"/>
<circle cx="297.95" cy="708.20" r="2.3"/>
<circle cx="298.95" cy="719.20" r="2.3"/>
<circle cx="300.35" cy="725.10" r="2.3"/>
<circle cx="303.45" cy="722.30" r="2.3"/>
<circle cx="304.15" cy="717.40" r="2.3"/>
<circle cx="305.05" cy="712.80" r="2.3"/>
<circle cx="305.95" cy="709.10" r="2.3"/>
<circle cx="307.20" cy="706.00" r="2.3"/>
<circle cx="308.35" cy="704.40" r="2.3"/>
<circle cx="309.00" cy="704.90" r="2.3"/>
<circle cx="309.65" cy="706.30" r="2.3"/>
<circle cx="310.30" cy="708.40" r="2.3"/>
<circle cx="310.95" cy="710.80" r="2.3"/>
<circle cx="311.60" cy="713.20" r="2.3"/>
<circle cx="312.25" cy="715.60" r="2.3"/>
<circle cx="312.90" cy="718.00" r="2.3"/>
<circle cx="313.55" cy="720.30" r="2.3"/>
<circle cx="314.20" cy="722.30" r="2.3"/>
<circle cx="314.85" cy="723.80" r="2.3"/>
<circle cx="315.50" cy="724.80" r="2.3"/>
<circle cx="316.15" cy="725.40" r="2.3"/>
<circle cx="316.80" cy="725.00" r="2.3"/>
<circle cx="317.45" cy="724.33" r="2.3"/>
<circle cx="318.10" cy="723.67" r="2.3"/>
<circle cx="318.75" cy="723.08" r="2.3"/>
<circle cx="319.40" cy="722.60" r="2.3"/>
<circle cx="320.05" cy="722.28" r="2.3"/>
<circle cx="320.70" cy="722.14" r="2.3"/>
<circle cx="321.35" cy="722.21" r="2.3"/>
<circle cx="322.00" cy="722.49" r="2.3"/>
<circle cx="322.65" cy="722.94" r="2.3"/>
<circle cx="323.30" cy="723.52" r="2.3"/>
<circle cx="323.95" cy="724.17" r="2.3"/>
<circle cx="324.60" cy="724.84" r="2.3"/>
<circle cx="325.25" cy="725.47" r="2.3"/>
<circle cx="325.90" cy="726.02" r="2.3"/>
<circle cx="326.55" cy="726.45" r="2.3"/>
<circle cx="327.20" cy="726.73" r="2.3"/>
<circle cx="327.85" cy="726.84" r="2.3"/>
<circle cx="328.50" cy="726.78" r="2.3"/>
<circle cx="329.15" cy="726.57" r="2.3"/>
<circle cx="329.80" cy="726.24" r="2.3"/>
<circle cx="330.45" cy="725.81" r="2.3"/>
<circle cx="331.10" cy="725.33" r="2.3"/>
<circle cx="331.75" cy="724.84" r="2.3"/>
<circle cx="332.40" cy="724.40" r="2.3"/>
<circle cx="333.05" cy="724.02" r="2.3"/>
<circle cx="333.70" cy="723.76" r="2.3"/>
<circle cx="334.35" cy="723.62" r="2.3"/>
<circle cx="335.00" cy="723.61" r="2.3"/>
<circle cx="335.65" cy="723.74" r="2.3"/>
<circle cx="336.30" cy="723.98" r="2.3"/>
<circle cx="336.95" cy="724.33" r="2.3"/>
<circle cx="337.60" cy="724.74" r="2.3"/>
<circle cx="338.25" cy="725.18" r="2.3"/>
<circle cx="338.90" cy="725.62" r="2.3"/>
<circle cx="339.55" cy="726.03" r="2.3"/>
<circle cx="340.20" cy="726.38" r="2.3"/>
<circle cx="340.85" cy="726.63" r="2.3"/>
<circle cx="341.50" cy="726.79" r="2.3"/>
<circle cx="342.15" cy="726.84" r="2.3"/>
<circle cx="342.80" cy="726.79" r="2.3"/>
<circle cx="343.45" cy="726.65" r="2.3"/>
<circle cx="344.10" cy="726.44" r="2.3"/>
<circle cx="344.75" cy="726.18" r="2.3"/>
<circle cx="345.40" cy="725.90" r="2.3"/>
<circle cx="346.05" cy="725.62" r="2.3"/>
<circle cx="346.70" cy="725.37" r="2.3"/>
<circle cx="347.35" cy="725.17" r="2.3"/>
<circle cx="348.00" cy="725.03" r="2.3"/>
<circle cx="348.65" cy="724.97" r="2.3"/>
<circle cx="349.30" cy="724.99" r="2.3"/>
<circle cx="349.95" cy="725.08" r="2.3"/>
<circle cx="350.60" cy="725.24" r="2.3"/>
<circle cx="351.25" cy="725.45" r="2.3"/>
<circle cx="351.90" cy="725.69" r="2.3"/>
<circle cx="352.55" cy="725.95" r="2.3"/>
<circle cx="353.20" cy="726.20" r="2.3"/>
<circle cx="353.85" cy="726.42" r="2.3"/>
<circle cx="354.50" cy="726.61" r="2.3"/>
<circle cx="355.15" cy="726.74" r="2.3"/>
<circle cx="355.80" cy="726.82" r="2.3"/>
<circle cx="356.45" cy="726.84" r="2.3"/>
<circle cx="357.10" cy="726.81" r="2.3"/>
<circle cx="357.75" cy="726.72" r="2.3"/>
<circle cx="358.40" cy="726.61" r="2.3"/>
<circle cx="359.05" cy="726.46" r="2.3"/>
<circle cx="359.70" cy="726.31" r="2.3"/>
<circle cx="360.35" cy="726.17" r="2.3"/>
<circle cx="361.00" cy="726.04" r="2.3"/>
<circle cx="361.65" cy="725.94" r="2.3"/>
<circle cx="362.30" cy="725.88" r="2.3"/>
<circle cx="362.95" cy="725.86" r="2.3"/>
<circle cx="363.60" cy="725.88" r="2.3"/>
<circle cx="364.25" cy="725.94" r="2.3"/>
<circle cx="364.90" cy="726.03" r="2.3"/>
<circle cx="365.55" cy="726.14" r="2.3"/>
<circle cx="366.20" cy="726.27" r="2.3"/>
<circle cx="366.85" cy="726.40" r="2.3"/>
<circle cx="367.50" cy="726.53" r="2.3"/>
<circle cx="368.15" cy="726.64" r="2.3"/>
<circle cx="368.80" cy="726.74" r="2.3"/>
<circle cx="369.45" cy="726.80" r="2.3"/>
<circle cx="370.10" cy="726.84" r="2.3"/>
<circle cx="370.75" cy="726.84" r="2.3"/>
<circle cx="371.40" cy="726.82" r="2.3"/>
<circle cx="372.05" cy="726.77" r="2.3"/>
<circle cx="372.70" cy="726.70" r="2.3"/>
<circle cx="373.35" cy="726.61" r="2.3"/>
<circle cx="374.00" cy="726.51" r="2.3"/>
<circle cx="374.65" cy="726.41" r="2.3"/>
<circle cx="375.30" cy="726.32" r="2.3"/>
<circle cx="375.95" cy="726.25" r="2.3"/>
<circle cx="376.60" cy="726.19" r="2.3"/>
<circle cx="377.25" cy="726.16" r="2.3"/>
<circle cx="377.90" cy="726.15" r="2.3"/>
<circle cx="378.55" cy="726.18" r="2.3"/>
<circle cx="379.20" cy="726.23" r="2.3"/>
<circle cx="379.85" cy="726.30" r="2.3"/>
<circle cx="380.50" cy="726.39" r="2.3"/>
<circle cx="381.15" cy="726.49" r="2.3"/>
<circle cx="381.80" cy="726.59" r="2.3"/>
<circle cx="382.45" cy="726.68" r="2.3"/>
<circle cx="383.10" cy="726.75" r="2.3"/>
<circle cx="383.75" cy="726.81" r="2.3"/>
<circle cx="384.40" cy="726.84" r="2.3"/>
<circle cx="385.05" cy="726.84" r="2.3"/>
<circle cx="385.70" cy="726.81" r="2.3"/>
<circle cx="386.35" cy="726.76" r="2.3"/>
<circle cx="387.00" cy="726.69" r="2.3"/>
<circle cx="387.65" cy="726.60" r="2.3"/>
<circle cx="388.30" cy="726.50" r="2.3"/>
<circle cx="388.95" cy="726.40" r="2.3"/>
<circle cx="389.60" cy="726.31" r="2.3"/>
<circle cx="390.25" cy="726.24" r="2.3"/>
<circle cx="390.90" cy="726.18" r="2.3"/>
<circle cx="391.55" cy="726.16" r="2.3"/>
<circle cx="392.20" cy="726.16" r="2.3"/>
<circle cx="392.85" cy="726.19" r="2.3"/>
<circle cx="393.50" cy="726.24" r="2.3"/>
<circle cx="394.15" cy="726.32" r="2.3"/>
<circle cx="394.80" cy="726.41" r="2.3"/>
<circle cx="395.45" cy="726.51" r="2.3"/>
<circle cx="396.10" cy="726.60" r="2.3"/>
<circle cx="396.75" cy="726.69" r="2.3"/>
<circle cx="397.40" cy="726.76" r="2.3"/>
<circle cx="398.05" cy="726.82" r="2.3"/>
<circle cx="398.70" cy="726.84" r="2.3"/>
<circle cx="399.35" cy="726.84" r="2.3"/>
<circle cx="400.00" cy="726.81" r="2.3"/>
<circle cx="400.65" cy="726.75" r="2.3"/>
<circle cx="401.30" cy="726.67" r="2.3"/>
<circle cx="401.95" cy="726.58" r="2.3"/>
<circle cx="402.60" cy="726.48" r="2.3"/>
<circle cx="403.25" cy="726.39" r="2.3"/>
<circle cx="403.90" cy="726.30" r="2.3"/>
<circle cx="404.55" cy="726.23" r="2.3"/>
<circle cx="405.20" cy="726.18" r="2.3"/>
<circle cx="405.85" cy="726.15" r="2.3"/>
<circle cx="406.50" cy="726.16" r="2.3"/>
<circle cx="407.15" cy="726.19" r="2.3"/>
<circle cx="407.80" cy="726.25" r="2.3"/>
<circle cx="408.45" cy="726.33" r="2.3"/>
<circle cx="409.10" cy="726.42" r="2.3"/>
<circle cx="409.75" cy="726.52" r="2.3"/>
<circle cx="410.40" cy="726.62" r="2.3"/>
<circle cx="411.05" cy="726.70" r="2.3"/>
<circle cx="411.70" cy="726.77" r="2.3"/>
<circle cx="412.35" cy="726.82" r="2.3"/>
<circle cx="413.00" cy="726.84" r="2.3"/>
<circle cx="413.65" cy="726.83" r="2.3"/>
<circle cx="414.30" cy="726.80" r="2.3"/>
<circle cx="414.95" cy="726.74" r="2.3"/>
<circle cx="415.60" cy="726.66" r="2.3"/>
<circle cx="416.25" cy="726.57" r="2.3"/>
<circle cx="416.90" cy="726.47" r="2.3"/>
<circle cx="417.55" cy="726.37" r="2.3"/>
<circle cx="418.20" cy="726.28" r="2.3"/>
<circle cx="418.85" cy="726.22" r="2.3"/>
<circle cx="419.50" cy="726.17" r="2.3"/>
<circle cx="420.15" cy="726.15" r="2.3"/>
<circle cx="420.80" cy="726.16" r="2.3"/>
<circle cx="421.45" cy="726.20" r="2.3"/>
<circle cx="422.10" cy="726.26" r="2.3"/>
<circle cx="422.75" cy="726.34" r="2.3"/>
<circle cx="423.40" cy="726.44" r="2.3"/>
<circle cx="424.05" cy="726.54" r="2.3"/>
<circle cx="424.70" cy="726.63" r="2.3"/>
<circle cx="425.35" cy="726.72" r="2.3"/>
<circle cx="426.00" cy="726.78" r="2.3"/>
<circle cx="426.65" cy="726.83" r="2.3"/>
<circle cx="427.30" cy="726.84" r="2.3"/>
<circle cx="427.95" cy="726.83" r="2.3"/>
<circle cx="428.60" cy="726.79" r="2.3"/>
<circle cx="429.25" cy="726.73" r="2.3"/>
<circle cx="429.90" cy="726.65" r="2.3"/>
<circle cx="430.55" cy="726.55" r="2.3"/>
<circle cx="431.20" cy="726.45" r="2.3"/>
<circle cx="431.85" cy="726.36" r="2.3"/>
<circle cx="432.50" cy="726.27" r="2.3"/>
<circle cx="433.15" cy="726.21" r="2.3"/>
<circle cx="433.80" cy="726.17" r="2.3"/>
<circle cx="434.45" cy="726.15" r="2.3"/>
<circle cx="435.10" cy="726.17" r="2.3"/>
<circle cx="435.75" cy="726.21" r="2.3"/>
<circle cx="436.40" cy="726.27" r="2.3"/>
<circle cx="437.05" cy="726.36" r="2.3"/>
<circle cx="437.70" cy="726.45" r="2.3"/>
<circle cx="438.35" cy="726.55" r="2.3"/>
<circle cx="439.00" cy="726.65" r="2.3"/>
<circle cx="439.65" cy="726.73" r="2.3"/>
<circle cx="440.30" cy="726.79" r="2.3"/>
<circle cx="440.95" cy="726.83" r="2.3"/>
<circle cx="441.60" cy="726.84" r="2.3"/>
<circle cx="442.25" cy="726.83" r="2.3"/>
<circle cx="442.90" cy="726.78" r="2.3"/>
<circle cx="443.55" cy="726.72" r="2.3"/>
<circle cx="444.20" cy="726.63" r="2.3"/>
<circle cx="444.85" cy="726.54" r="2.3"/>
<circle cx="445.50" cy="726.44" r="2.3"/>
<circle cx="446.15" cy="726.34" r="2.3"/>
<circle cx="446.80" cy="726.26" r="2.3"/>
<circle cx="447.45" cy="726.20" r="2.3"/>
<circle cx="448.10" cy="726.16" r="2.3"/>
<circle cx="448.75" cy="726.15" r="2.3"/>
<circle cx="449.40" cy="726.17" r="2.3"/>
<circle cx="450.05" cy="726.22" r="2.3"/>
<circle cx="450.70" cy="726.28" r="2.3"/>
<circle cx="451.35" cy="726.37" r="2.3"/>
<circle cx="452.00" cy="726.47" r="2.3"/>
<circle cx="452.65" cy="726.57" r="2.3"/>
<circle cx="453.30" cy="726.66" r="2.3"/>
<circle cx="453.95" cy="726.74" r="2.3"/>
<circle cx="454.60" cy="726.80" r="2.3"/>
<circle cx="455.25" cy="726.83" r="2.3"/>
<circle cx="455.90" cy="726.84" r="2.3"/>
<circle cx="456.55" cy="726.82" r="2.3"/>
<circle cx="457.20" cy="726.77" r="2.3"/>
<circle cx="457.85" cy="726.70" r="2.3"/>
<circle cx="458.50" cy="726.62" r="2.3"/>
<circle cx="459.15" cy="726.52" r="2.3"/>
<circle cx="459.80" cy="726.42" r="2.3"/>
<circle cx="460.45" cy="726.33" r="2.3"/>
<circle cx="461.10" cy="726.25" r="2.3"/>
<circle cx="461.75" cy="726.19" r="2.3"/>
<circle cx="462.40" cy="726.84" r="2.3"/>
<circle cx="463.05" cy="726.84" r="2.3"/>
<circle cx="463.70" cy="726.84" r="2.3"/>
<circle cx="464.35" cy="726.84" r="2.3"/>
<circle cx="465.00" cy="726.84" r="2.3"/>
<circle cx="465.65" cy="726.84" r="2.3"/>
<circle cx="466.30" cy="726.84" r="2.3"/>
<circle cx="466.95" cy="726.84" r="2.3"/>
<circle cx="467.60" cy="726.84" r="2.3"/>
<circle cx="468.25" cy="726.84" r="2.3"/>
<circle cx="468.90" cy="726.84" r="2.3"/>
<circle cx="469.55" cy="726.84" r="2.3"/>
<circle cx="470.20" cy="726.84" r="2.3"/>
<circle cx="470.85" cy="726.84" r="2.3"/>
<circle cx="471.50" cy="726.84" r="2.3"/>
<circle cx="472.15" cy="726.84" r="2.3"/>
<circle cx="472.80" cy="726.84" r="2.3"/>
<circle cx="473.45" cy="726.84" r="2.3"/>
<circle cx="474.10" cy="726.84" r="2.3"/>
<circle cx="474.75" cy="726.84" r="2.3"/>
<circle cx="475.40" cy="726.84" r="2.3"/>
<circle cx="476.05" cy="726.84" r="2.3"/>
<circle cx="476.70" cy="726.84" r="2.3"/>
<circle cx="477.35" cy="726.84" r="2.3"/>
<circle cx="478.00" cy="726.84" r="2.3"/>
<circle cx="478.65" cy="726.84" r="2.3"/>
<circle cx="479.30" cy="726.84" r="2.3"/>
<circle cx="479.95" cy="726.84" r="2.3"/>
<circle cx="480.60" cy="726.84" r="2.3"/>
<circle cx="481.25" cy="726.84" r="2.3"/>
<circle cx="481.90" cy="726.84" r="2.3"/>
<circle cx="482.55" cy="726.84" r="2.3"/>
<circle cx="483.20" cy="726.84" r="2.3"/>
<circle cx="483.85" cy="726.84" r="2.3"/>
<circle cx="484.50" cy="726.84" r="2.3"/>
<circle cx="485.15" cy="726.84" r="2.3"/>
<circle cx="485.80" cy="726.84" r="2.3"/>
<circle cx="486.45" cy="726.84" r="2.3"/>
<circle cx="487.10" cy="726.84" r="2.3"/>
<circle cx="487.75" cy="726.84" r="2.3"/>
<circle cx="488.40" cy="726.84" r="2.3"/>
<circle cx="489.05" cy="726.84" r="2.3"/>
<circle cx="489.70" cy="726.84" r="2.3"/>
<circle cx="490.35" cy="726.84" r="2.3"/>
<circle cx="491.00" cy="726.84" r="2.3"/>
<circle cx="491.65" cy="726.84" r="2.3"/>
<circle cx="492.30" cy="726.84" r="2.3"/>
<circle cx="492.95" cy="726.84" r="2.3"/>
<circle cx="493.60" cy="726.84" r="2.3"/>
<circle cx="494.25" cy="726.84" r="2.3"/>
<circle cx="494.90" cy="726.84" r="2.3"/>
<circle cx="495.55" cy="726.84" r="2.3"/>
<circle cx="496.20" cy="726.84" r="2.3"/>
<circle cx="496.85" cy="726.84" r="2.3"/>
<circle cx="497.50" cy="726.84" r="2.3"/>
<circle cx="498.15" cy="726.84" r="2.3"/>
<circle cx="498.80" cy="726.84" r="2.3"/>
<circle cx="499.45" cy="726.84" r="2.3" fill="#1212cc"/>
<circle cx="500.10" cy="726.84" r="2.3" fill="#1212cc"/>
<circle cx="500.75" cy="726.84" r="2.3" fill="#1212cc"/>
</g></g>
<g fill="#cd7c7c" stroke="none">
<rect x="193" y="563.8" width="68" height="2.1"/>
<path d="M279.6 564.8 L248.7 557.8 L258.5 564.8 L248.7 571.2 Z"/>
<rect x="316" y="564.4" width="68.3" height="2.1"/>
<path d="M295.9 565.4 L327.5 559.0 L318.5 565.4 L327.5 571.4 Z"/>
</g>
<text class="s" x="311.7" y="552" font-size="22.75" style="fill:#111">FWHM=0.323λ</text>
</svg></body></html>
